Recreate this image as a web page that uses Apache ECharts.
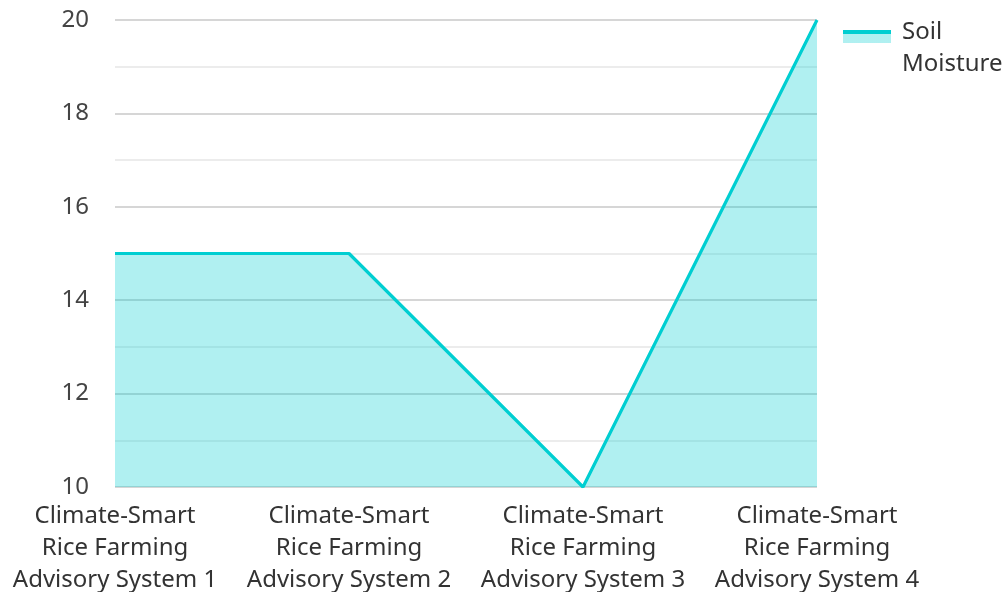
<!DOCTYPE html>
<html>
<head>
<meta charset="utf-8">
<script src="https://cdn.jsdelivr.net/npm/echarts@6/dist/echarts.min.js"></script>
<style>
  html, body { margin: 0; padding: 0; background: #fff; }
  #chart { width: 1007px; height: 592px; }
</style>
</head>
<body>
<div id="chart"></div>
<script>
// data
const categories = [
  'Climate-Smart\nRice Farming\nAdvisory System 1',
  'Climate-Smart\nRice Farming\nAdvisory System 2',
  'Climate-Smart\nRice Farming\nAdvisory System 3',
  'Climate-Smart\nRice Farming\nAdvisory System 4'
];
const seriesName = 'Soil Moisture';
const soilMoisture = [15, 15, 10, 20];

const font = '"Noto Sans", "Open Sans", sans-serif';
const lineColor = '#00CED1';
const fillColor = 'rgba(0, 206, 209, 0.31)';
const clear = 'rgba(255, 255, 255, 0)';

const chart = echarts.init(document.getElementById('chart'));
chart.setOption({
  animation: false,
  textStyle: { fontFamily: font },
  grid: { left: 115, right: 190, top: 20, bottom: 105, containLabel: false, outerBoundsMode: 'none' },
  legend: {
    left: 843,
    top: 16,
    padding: 0,
    orient: 'vertical',
    icon: 'rect',
    itemWidth: 48,
    itemHeight: 64,
    formatter: () => 'Soil\nMoisture',
    // icon sits near the first text line: line on top, pale fill below
    itemStyle: {
      color: new echarts.graphic.LinearGradient(0, 0, 0, 1, [
        { offset: 0, color: clear },
        { offset: 0.219, color: clear },
        { offset: 0.219, color: lineColor },
        { offset: 0.281, color: lineColor },
        { offset: 0.281, color: fillColor },
        { offset: 0.422, color: fillColor },
        { offset: 0.422, color: clear },
        { offset: 1, color: clear }
      ]),
      borderWidth: 0
    },
    textStyle: { fontSize: 24, color: '#333', lineHeight: 32, padding: [0, 0, 0, 6], fontFamily: font }
  },
  xAxis: {
    type: 'category',
    data: categories,
    boundaryGap: false,
    axisLine: { show: false },
    axisTick: { show: false },
    axisLabel: { fontSize: 24, color: '#333', lineHeight: 32, margin: 13, fontFamily: font, interval: 0 }
  },
  yAxis: {
    type: 'value',
    min: 10,
    max: 20,
    interval: 2,
    axisLabel: { fontSize: 24, color: '#444', margin: 26, fontFamily: font },
    splitLine: { lineStyle: { color: '#c8c8c8', width: 1.5 } },
    minorTick: { show: false, splitNumber: 2 },
    minorSplitLine: { show: true, lineStyle: { color: '#e6e6e6', width: 1.5 } }
  },
  series: [{
    name: seriesName,
    type: 'line',
    data: soilMoisture,
    showSymbol: false,
    lineStyle: { color: lineColor, width: 3.2 },
    itemStyle: { color: lineColor },
    areaStyle: { color: fillColor, opacity: 1, origin: 'start' }
  }]
});
</script>
</body>
</html>
